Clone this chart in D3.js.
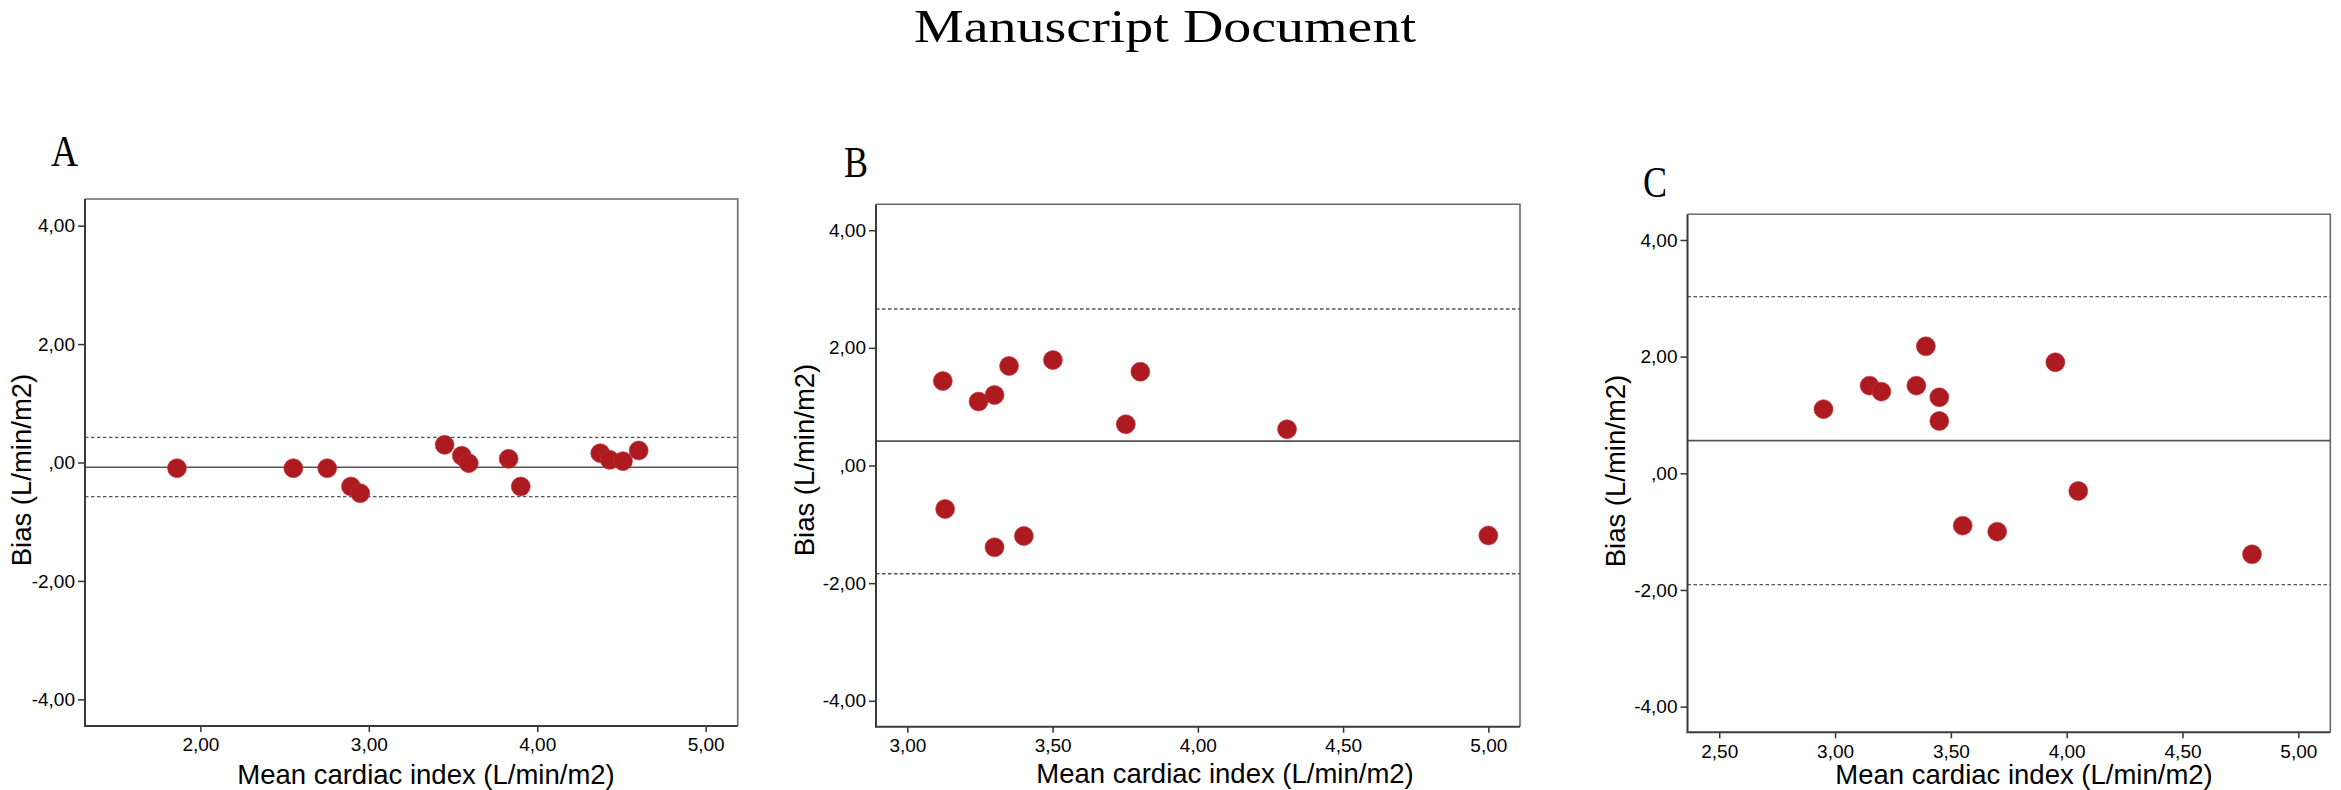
<!DOCTYPE html>
<html>
<head>
<meta charset="utf-8">
<script src="https://cdn.jsdelivr.net/npm/d3@7/dist/d3.min.js"></script>
<style>
  html, body { margin: 0; padding: 0; background: #fff; }
  svg { display: block; }
</style>
</head>
<body>
<svg id="chart" width="2341" height="790"></svg>
<script>
// ---------- DATA ----------
const titleText = "Manuscript Document";
const panelLetters = ["A", "B", "C"];
const xAxisTitle = "Mean cardiac index (L/min/m2)";
const yAxisTitle = "Bias (L/min/m2)";

const yTicks = [4, 2, 0, -2, -4];
const aXTicks = [2, 3, 4, 5];
const bXTicks = [3, 3.5, 4, 4.5, 5];
const cXTicks = [2.5, 3, 3.5, 4, 4.5, 5];

// Panel A
const aMeanCI = [1.861, 2.552, 2.753, 2.894, 2.949, 3.450, 3.552, 3.593, 3.830, 3.902, 4.374, 4.430, 4.509, 4.602];
const aBias   = [-0.096, -0.096, -0.096, -0.406, -0.518, 0.299, 0.113, -0.011, 0.062, -0.406, 0.158, 0.045, 0.023, 0.203];
const aLines  = [-0.079, 0.423, -0.575]; // mean bias, upper LoA, lower LoA

// Panel B
const bMeanCI = [3.122, 3.245, 3.300, 3.350, 3.501, 3.752, 3.802, 4.307, 3.130, 3.300, 3.401, 5.000];
const bBias   = [1.437, 1.087, 1.199, 1.692, 1.793, 0.702, 1.595, 0.617, -0.738, -1.390, -1.197, -1.190];
const bLines  = [0.414, 2.66, -1.84];

// Panel C
const cMeanCI = [2.950, 3.149, 3.200, 3.351, 3.392, 3.450, 3.450, 3.951, 3.551, 3.700, 4.050, 4.800];
const cBias   = [1.100, 1.503, 1.400, 1.503, 2.177, 1.303, 0.897, 1.903, -0.897, -1.000, -0.303, -1.389];
const cLines  = [0.56, 3.03, -1.91];

// ---------- LAYOUT ----------
const svg = d3.select("#chart");
const SANS = "'Liberation Sans', Arial, Helvetica, sans-serif";
const SERIF = "'Liberation Serif', 'DejaVu Serif', serif";

const panels = [
  { letter: panelLetters[0], xs: aMeanCI, ys: aBias, lines: aLines, xTicks: aXTicks,
    left: 85, right: 737.7, top: 199, bottom: 726, xDom: [1.315, 5.19], yDom: [-4.45, 4.45],
    letterPos: [51, 166], yTitlePos: [31, 470], xTitlePos: [426, 784] },
  { letter: panelLetters[1], xs: bMeanCI, ys: bBias, lines: bLines, xTicks: bXTicks,
    left: 876, right: 1520, top: 204.3, bottom: 726.7, xDom: [2.892, 5.109], yDom: [-4.44, 4.44],
    letterPos: [844, 177], yTitlePos: [814, 460], xTitlePos: [1225, 783] },
  { letter: panelLetters[2], xs: cMeanCI, ys: cBias, lines: cLines, xTicks: cXTicks,
    left: 1687.5, right: 2330.3, top: 214.3, bottom: 732.3, xDom: [2.363, 5.138], yDom: [-4.44, 4.44],
    letterPos: [1643, 197], yTitlePos: [1625, 471], xTitlePos: [2024, 784] }
];

const fmt = v => v === 0 ? ",00" : v.toFixed(2).replace(".", ",");

// Title
svg.append("text")
  .attr("x", 1165).attr("y", 42)
  .attr("text-anchor", "middle")
  .attr("font-family", SERIF)
  .attr("font-size", 47)
  .attr("textLength", 502)
  .attr("lengthAdjust", "spacingAndGlyphs")
  .attr("fill", "#000")
  .text(titleText);

panels.forEach(p => {
  const g = svg.append("g");
  const x = d3.scaleLinear().domain(p.xDom).range([p.left, p.right]);
  const y = d3.scaleLinear().domain(p.yDom).range([p.bottom, p.top]);

  // panel letter
  g.append("text")
    .attr("x", p.letterPos[0]).attr("y", p.letterPos[1])
    .attr("font-family", SERIF).attr("font-size", 45)
    .attr("textLength", p.letter === "A" ? 27 : 24)
    .attr("lengthAdjust", "spacingAndGlyphs")
    .attr("fill", "#000")
    .text(p.letter);

  // frame (top & right lighter)
  g.append("path")
    .attr("d", `M${p.left},${p.top}H${p.right}V${p.bottom}`)
    .attr("fill", "none").attr("stroke", "#6a6a6a").attr("stroke-width", 1.6);

  // reference lines
  const [meanB, upper, lower] = p.lines;
  g.append("line")
    .attr("x1", p.left).attr("x2", p.right)
    .attr("y1", y(meanB)).attr("y2", y(meanB))
    .attr("stroke", "#555").attr("stroke-width", 1.6);
  [upper, lower].forEach(v => {
    g.append("line")
      .attr("x1", p.left).attr("x2", p.right)
      .attr("y1", y(v)).attr("y2", y(v))
      .attr("stroke", "#555").attr("stroke-width", 1.3)
      .attr("stroke-dasharray", "3.5,2.5");
  });

  // points
  g.append("g").selectAll("circle")
    .data(p.xs.map((d, i) => [d, p.ys[i]]))
    .join("circle")
    .attr("cx", d => x(d[0]))
    .attr("cy", d => y(d[1]))
    .attr("r", 9.5)
    .attr("fill", "#ad1a1f")
    .attr("stroke", "#c0393c")
    .attr("stroke-width", 0.6);

  // y axis
  const yAx = g.append("g")
    .attr("transform", `translate(${p.left},0)`)
    .call(d3.axisLeft(y).tickValues(yTicks).tickFormat(fmt).tickSize(7).tickPadding(3));
  yAx.select(".domain").remove();
  yAx.selectAll(".tick line").attr("stroke", "#333").attr("stroke-width", 1.5);
  yAx.selectAll(".tick text")
    .attr("font-family", SANS).attr("font-size", 19).attr("fill", "#000");

  // x axis
  const xAx = g.append("g")
    .attr("transform", `translate(0,${p.bottom})`)
    .call(d3.axisBottom(x).tickValues(p.xTicks).tickFormat(fmt).tickSize(6).tickPadding(6));
  xAx.select(".domain").remove();
  xAx.selectAll(".tick line").attr("stroke", "#333").attr("stroke-width", 1.5);
  xAx.selectAll(".tick text")
    .attr("font-family", SANS).attr("font-size", 19).attr("fill", "#000");

  // left & bottom axis lines (darker)
  g.append("path")
    .attr("d", `M${p.left},${p.top}V${p.bottom}H${p.right}`)
    .attr("fill", "none").attr("stroke", "#3a3a3a").attr("stroke-width", 2);

  // axis titles
  g.append("text")
    .attr("transform", `translate(${p.yTitlePos[0]},${p.yTitlePos[1]}) rotate(-90)`)
    .attr("text-anchor", "middle")
    .attr("font-family", SANS).attr("font-size", 27.5).attr("fill", "#000")
    .text(yAxisTitle);

  g.append("text")
    .attr("x", p.xTitlePos[0]).attr("y", p.xTitlePos[1])
    .attr("text-anchor", "middle")
    .attr("font-family", SANS).attr("font-size", 27.5).attr("fill", "#000")
    .text(xAxisTitle);
});
</script>
</body>
</html>
